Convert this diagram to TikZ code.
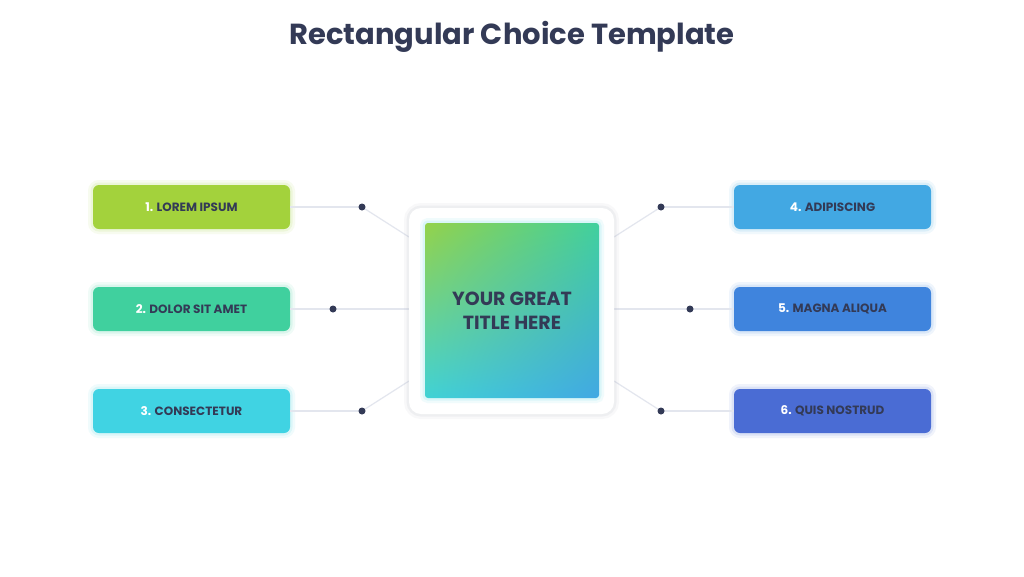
\documentclass[tikz,border=0pt]{standalone}
\usepackage{fontspec}
\setmainfont{Poppins}
\usetikzlibrary{shadings}
\definecolor{ink}{HTML}{333A56}
\definecolor{cA}{HTML}{A3D23C}
\definecolor{cB}{HTML}{40D09E}
\definecolor{cC}{HTML}{40D3E3}
\definecolor{cD}{HTML}{42A8E3}
\definecolor{cE}{HTML}{3F84DD}
\definecolor{cF}{HTML}{4A6CD4}
\definecolor{wire}{HTML}{E3E6EE}
\tikzset{
  glow/.style={preaction={draw=#1,line width=10pt,draw opacity=0.08},
    preaction={draw=#1,line width=5pt,draw opacity=0.12}},
  choice/.style={rounded corners=6pt,minimum width=197pt,minimum height=44pt,
    inner sep=0pt,fill=#1,glow=#1,text=ink,font=\bfseries\fontsize{12}{14}\selectfont},
  dot/.style={circle,fill=ink,inner sep=0pt,minimum size=7pt},
  wire/.style={draw=wire,line width=1.2pt}
}
\begin{document}
\begin{tikzpicture}[x=1pt,y=-1pt]
\useasboundingbox[fill=white] (0,0) rectangle (1024,576);
\node[font=\bfseries\fontsize{29}{34}\selectfont,text=ink] (title) at (512,37) {Rectangular Choice Template};
% dots and wires
\coordinate (d1) at (362,207);
\coordinate (d2) at (333,309);
\coordinate (d3) at (362,411);
\coordinate (d4) at (661,207);
\coordinate (d5) at (690,309);
\coordinate (d6) at (661,411);
\coordinate (h1) at (409,237);
\coordinate (h2) at (409,309);
\coordinate (h3) at (409,381);
\coordinate (h4) at (614,237);
\coordinate (h5) at (614,309);
\coordinate (h6) at (614,381);
\foreach \i in {1,...,6}{\draw[wire] (d\i) -- (h\i);}
% center box
\node[rounded corners=12pt,fill=white,glow=ink!40,minimum width=205pt,minimum height=206pt] (hub) at (511.5,311) {};
\shade[rounded corners=3pt,glow=cC,upper left=cA!85!cB,upper right=cB,lower left=cC!80!cB,lower right=cD]
  (425,223) rectangle (599,398);
\node[align=center,text=ink,font=\bfseries\fontsize{19}{24}\selectfont] (hubtext) at (512,311) {YOUR GREAT\\TITLE HERE};
% left choices
\node[choice=cA] (c1) at (191.5,207) {\textcolor{white}{1.} LOREM IPSUM};
\node[choice=cB] (c2) at (191.5,309) {\textcolor{white}{2.} DOLOR SIT AMET};
\node[choice=cC] (c3) at (191.5,411) {\textcolor{white}{3.} CONSECTETUR};
% right choices
\node[choice=cD] (c4) at (832.5,207) {\textcolor{white}{4.} ADIPISCING};
\node[choice=cE] (c5) at (832.5,309) {\textcolor{white}{5.} MAGNA ALIQUA};
\node[choice=cF] (c6) at (832.5,411) {\textcolor{white}{6.} QUIS NOSTRUD};
\foreach \i in {1,2,3}{\draw[wire] (c\i.east) -- (d\i);}
\foreach \i in {4,5,6}{\draw[wire] (c\i.west) -- (d\i);}
\foreach \i in {1,...,6}{\node[dot] (p\i) at (d\i) {};}
\end{tikzpicture}
\end{document}
